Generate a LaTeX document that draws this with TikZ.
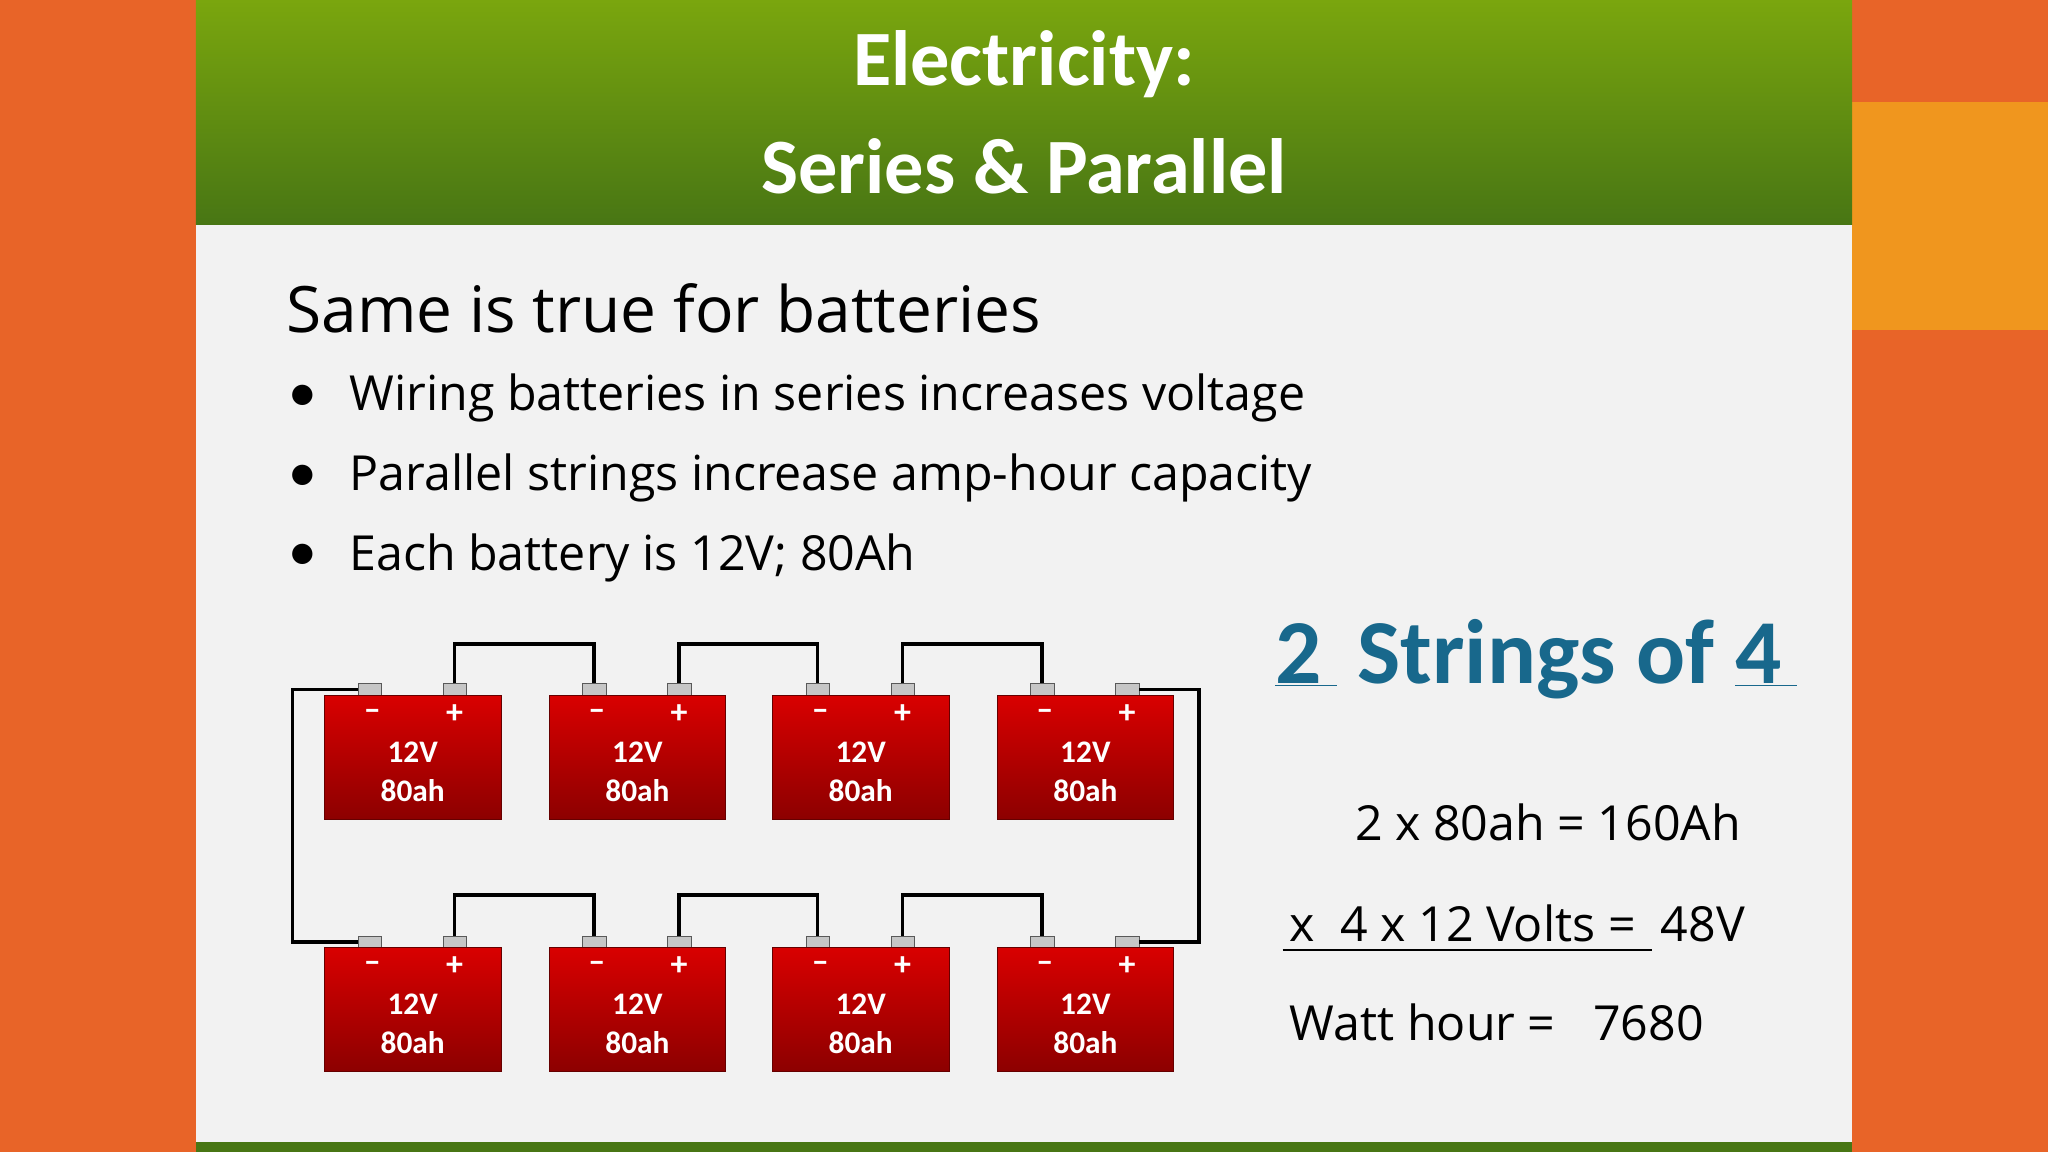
\documentclass[tikz,border=0pt]{standalone}
\usepackage{fontspec}
\setmainfont{Carlito}
\newfontfamily\osans{Open Sans}
\definecolor{gtop}{RGB}{122,166,14}
\definecolor{gbot}{RGB}{72,118,20}
\definecolor{blu}{RGB}{24,104,140}
\definecolor{org}{RGB}{232,100,40}
\definecolor{org2}{RGB}{240,150,30}
\begin{document}
\begin{tikzpicture}[x=1pt,y=-1pt,
  bat/.style={draw=red!40!black,line width=0.6pt,top color=red!85!black,bottom color=red!55!black,minimum width=135pt,minimum height=95pt,inner sep=0pt},
  term/.style={fill=gray!45,draw=gray!70!black,line width=0.4pt,minimum width=18pt,minimum height=9pt,inner sep=0pt},
  wire/.style={line width=2.8pt,black},
  body/.style={font=\osans\fontsize{37}{40}\selectfont},
  lbl/.style={text=white,font=\bfseries\fontsize{24}{30}\selectfont,align=center}]
\useasboundingbox (0,0) rectangle (1568,882);
\fill[org] (0,0) rectangle (1568,882);
\fill[org2] (1418,78) rectangle (1568,253);
\fill[gray!10] (150,0) rectangle (1418,882);
\shade[top color=gtop,bottom color=gbot] (150,0) rectangle (1418,172);
\fill[gbot] (150,874) rectangle (1418,882);
\node[text=white,font=\fontsize{60}{82}\selectfont\bfseries,align=center] (title) at (784,86) {Electricity:\\Series \& Parallel};
\node[anchor=west,font=\osans\fontsize{49}{52}\selectfont] (h) at (216,236) {Same is true for batteries};
\foreach \t/\y [count=\i] in {Wiring batteries in series increases voltage/305,Parallel strings increase amp-hour capacity/366,Each battery is 12V; 80Ah/427}{
  \node[font=\fontsize{44}{40}\selectfont] (b\i) at (232,\y) {•};
  \node[anchor=west,body] (t\i) at (264,\y) {\t};
}
\foreach \x [count=\i] in {316,488,659,831}{
  \foreach \r/\y in {T/580,B/773}{
    \node[term] (m\r\i) at (\x-33,\y-52) {};
    \node[term] (p\r\i) at (\x+32,\y-52) {};
    \node[bat] (bat\r\i) at (\x,\y) {};
    \node[text=white,font=\bfseries\fontsize{26}{26}\selectfont] at (\x-31,\y-33) {–};
    \node[text=white,font=\bfseries\fontsize{26}{26}\selectfont] at (\x+32,\y-33) {+};
    \node[lbl] at (\x,\y+11) {12V\\80ah};
  }
}
\foreach \r/\h in {T/493,B/685}{
  \foreach \a/\b in {1/2,2/3,3/4}{
    \draw[wire] (p\r\a.north) -- (p\r\a.north |- 0,\h) -- (m\r\b.north |- 0,\h) -- (m\r\b.north);
  }
}
\coordinate (L) at (224,0);
\coordinate (R) at (918,0);
\draw[wire] (mT1.west) -- (mT1.west -| L) -- (mB1.west -| L) -- (mB1.west);
\draw[wire] (pT4.east) -- (pT4.east -| R) -- (pB4.east -| R) -- (pB4.east);
\node[text=blu,font=\bfseries\fontsize{70}{72}\selectfont] (st) at (1176,505) {\underline{2\,} Strings of \underline{4\,}};
\node[anchor=west,body] (e1) at (1034,630) {2 x 80ah = 160Ah};
\node[anchor=west,body] (e2) at (984,707) {x\ \ 4 x 12 Volts =\ \ 48V};
\draw[line width=1.5pt] (982,727) -- (1265,727);
\node[anchor=west,body] (e3) at (984,783) {Watt hour =\ \ \ 7680};
\end{tikzpicture}
\end{document}
